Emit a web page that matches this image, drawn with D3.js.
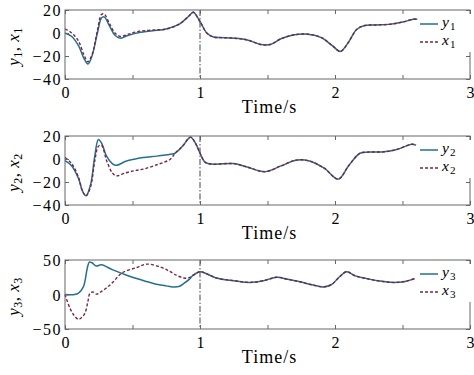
<!DOCTYPE html>
<html>
<head>
<meta charset="utf-8">
<script src="https://cdn.jsdelivr.net/npm/d3@7"></script>
<style>
  body { margin: 0; background: #fff; }
  text { font-family: "Liberation Serif", serif; }
</style>
</head>
<body>
<div id="chart-area"></div>
<script>
/*
*    three panels: y_i vs x_i over time
*/

var W = 474, H = 375;
var left = 65, right = 470;

// panel 1
var p1T = [0, 0.05, 0.10, 0.14, 0.17, 0.20, 0.24, 0.27, 0.29, 0.33, 0.37, 0.41, 0.47, 0.55, 0.65, 0.75, 0.85, 0.92];
var y1Head = [0, -3, -11, -22, -27, -20, 0, 13, 14, 6, -2, -4.5, -2, 0.5, 2, 3.5, 8, 15];
var x1Head = [3.5, 0, -7, -19, -25, -19, 2, 16, 16.5, 8, 0, -3, -1, 1.5, 2.5, 3.5, 8, 15];
var tail1T = [0.95, 1.0, 1.05, 1.10, 1.15, 1.25, 1.35, 1.45, 1.52, 1.60, 1.70, 1.80, 1.90, 1.98, 2.04, 2.10, 2.16, 2.22, 2.30, 2.40, 2.50, 2.58, 2.61];
var tail1V = [18, 10, 0, -3.5, -4, -4.5, -6, -10, -10, -5, -1.5, -1, -4, -11, -16, -8, 3, 6.5, 7, 7.5, 9.5, 12, 12];

// panel 2
var p2T = [0, 0.05, 0.10, 0.13, 0.156, 0.19, 0.22, 0.247, 0.27, 0.31, 0.35, 0.38, 0.45, 0.52, 0.58, 0.68, 0.78];
var y2Head = [-1.5, -6, -17, -28, -32, -22, 2, 17, 14, 2, -4, -5.5, -2, 0, 1.3, 2.5, 4.1];
var x2Head = [1.3, -4, -16, -28, -32, -24, -2, 11, 12, -2, -12, -14.6, -12, -10, -8.8, -5, -0.2];
var tail2T = [0.815, 0.87, 0.93, 0.97, 1.0, 1.04, 1.1, 1.25, 1.35, 1.48, 1.60, 1.71, 1.81, 1.92, 2.025, 2.1, 2.185, 2.25, 2.36, 2.45, 2.57, 2.60];
var tail2V = [5, 11, 19, 13, 5, -3, -4.5, -4, -7, -11, -6, -1, -1.7, -8, -17.5, -6, 5, 6, 6.2, 8, 12.8, 12];

// panel 3
var y3T = [0, 0.07, 0.10, 0.136, 0.165, 0.18, 0.2, 0.23, 0.27, 0.35, 0.457, 0.55, 0.654, 0.75, 0.80, 0.85, 0.88, 0.92];
var y3Head = [0, 0, 2, 11, 38, 47, 46, 41.4, 43, 36, 28, 22, 16, 12.5, 11, 12, 16, 22];
var x3T = [0, 0.037, 0.07, 0.10, 0.125, 0.148, 0.17, 0.185, 0.21, 0.235, 0.27, 0.31, 0.358, 0.42, 0.53, 0.605, 0.704, 0.78, 0.827, 0.88, 0.914];
var x3Head = [0, -20, -31, -36, -33, -27, -10, 1.7, 3.5, 0.5, 4.5, 10, 18.4, 31, 39, 44, 40, 33, 27.6, 24, 24];
var tail3T = [0.95, 1.0, 1.05, 1.12, 1.25, 1.37, 1.47, 1.568, 1.65, 1.74, 1.83, 1.914, 1.975, 2.03, 2.086, 2.15, 2.235, 2.33, 2.43, 2.52, 2.59];
var tail3V = [28, 33, 30, 24, 20, 17.5, 20, 25, 22, 18.4, 14, 11, 14.5, 25, 33, 27, 23, 19.5, 17.5, 19, 23];

var xTicks = [0, 0.5, 1, 1.5, 2, 2.5, 3];

function zip(ts, vs) {
    return ts.map((t, i) => { return {t: t, v: vs[i]}; });
}

var panels = [
    {top: 10, domain: [-40, 20], ticks: [-40, -20, 0, 20], idx: "1",
     y: zip(p1T, y1Head).concat(zip(tail1T, tail1V)),
     x: zip(p1T, x1Head).concat(zip(tail1T, tail1V))},
    {top: 136, domain: [-40, 20], ticks: [-40, -20, 0, 20], idx: "2",
     y: zip(p2T, y2Head).concat(zip(tail2T, tail2V)),
     x: zip(p2T, x2Head).concat(zip(tail2T, tail2V))},
    {top: 260, domain: [-50, 50], ticks: [-50, 0, 50], idx: "3",
     y: zip(y3T, y3Head).concat(zip(tail3T, tail3V)),
     x: zip(x3T, x3Head).concat(zip(tail3T, tail3V))}
];

var ph = 69;
var teal = "#23708f";
var maroon = "#7d2340";
var frame = "#666";

var svg = d3.select("#chart-area").append("svg")
    .attr("width", W)
    .attr("height", H);

var x = d3.scaleLinear().domain([0, 3]).range([left, right]);

panels.forEach((p) => {
    var bottom = p.top + ph;
    var y = d3.scaleLinear().domain(p.domain).range([bottom, p.top]);
    var g = svg.append("g");

    var line = d3.line()
        .x((d) => { return x(d.t); })
        .y((d) => { return y(d.v); })
        .curve(d3.curveCatmullRom.alpha(0.5));

    // dash-dot marker at t = 1
    g.append("line")
        .attr("x1", x(1)).attr("x2", x(1))
        .attr("y1", p.top).attr("y2", bottom)
        .attr("stroke", "#444")
        .attr("stroke-width", 1)
        .attr("stroke-dasharray", "6,2,1.5,2");

    g.append("path")
        .datum(p.y)
        .attr("d", line)
        .attr("fill", "none")
        .attr("stroke", teal)
        .attr("stroke-width", 1.5);

    g.append("path")
        .datum(p.x)
        .attr("d", line)
        .attr("fill", "none")
        .attr("stroke", maroon)
        .attr("stroke-width", 1.4)
        .attr("stroke-dasharray", "3,2");

    // axes with inward ticks
    var xb = g.append("g")
        .attr("transform", "translate(0," + bottom + ")")
        .call(d3.axisBottom(x).tickValues(xTicks).tickSize(-4).tickPadding(8)
            .tickFormat((d) => { return Number.isInteger(d) ? d : ""; }));
    xb.selectAll("text")
        .attr("font-size", "16px")
        .attr("fill", "#000");

    g.append("g")
        .attr("transform", "translate(0," + p.top + ")")
        .call(d3.axisTop(x).tickValues(xTicks).tickSize(-4).tickFormat(""));

    var yl = g.append("g")
        .attr("transform", "translate(" + left + ",0)")
        .call(d3.axisLeft(y).tickValues(p.ticks).tickSize(-4).tickPadding(3));
    yl.selectAll("text")
        .attr("font-size", "16px")
        .attr("letter-spacing", "1.5px")
        .attr("fill", "#000")
        .attr("dy", "0.36em");

    g.append("g")
        .attr("transform", "translate(" + right + ",0)")
        .call(d3.axisRight(y).tickValues(p.ticks).tickSize(-4).tickFormat(""));

    g.selectAll(".domain").remove();
    g.selectAll(".tick line").attr("stroke", frame);

    g.append("rect")
        .attr("x", left).attr("y", p.top)
        .attr("width", right - left).attr("height", ph)
        .attr("fill", "none")
        .attr("stroke", frame)
        .attr("stroke-width", 1);

    // legend (white box sitting over the frame)
    var lg = g.append("g").attr("transform", "translate(0," + p.top + ")");
    lg.append("rect")
        .attr("x", 418).attr("y", 4)
        .attr("width", 56).attr("height", 38)
        .attr("fill", "#fff");
    [["y", teal, null, 14], ["x", maroon, "3,2", 32]].forEach((r) => {
        lg.append("line")
            .attr("x1", 420).attr("x2", 438)
            .attr("y1", r[3]).attr("y2", r[3])
            .attr("stroke", r[1])
            .attr("stroke-width", 1.5)
            .attr("stroke-dasharray", r[2]);
        var t = lg.append("text")
            .attr("x", 442).attr("y", r[3] + 3)
            .attr("font-size", "15.5px");
        t.append("tspan").attr("font-style", "italic").text(r[0]);
        t.append("tspan").attr("font-size", "11px").attr("dx", 1).attr("dy", 2.5).text(p.idx);
    });

    // axis titles
    g.append("text")
        .attr("x", (left + right) / 2 + 2)
        .attr("y", bottom + 34)
        .attr("font-size", "18px")
        .attr("letter-spacing", "1px")
        .attr("text-anchor", "middle")
        .text("Time/s");

    var lab = g.append("text")
        .attr("transform", "translate(19," + (p.top + ph / 2 + 2) + ") rotate(-90)")
        .attr("text-anchor", "middle")
        .attr("letter-spacing", "0.5px")
        .attr("font-size", "17px");
    lab.append("tspan").attr("font-style", "italic").text("y");
    lab.append("tspan").attr("font-size", "12px").attr("dy", 3).text(p.idx);
    lab.append("tspan").attr("dy", -3).text(", ");
    lab.append("tspan").attr("font-style", "italic").text("x");
    lab.append("tspan").attr("font-size", "12px").attr("dy", 3).text(p.idx);
});
</script>
</body>
</html>
